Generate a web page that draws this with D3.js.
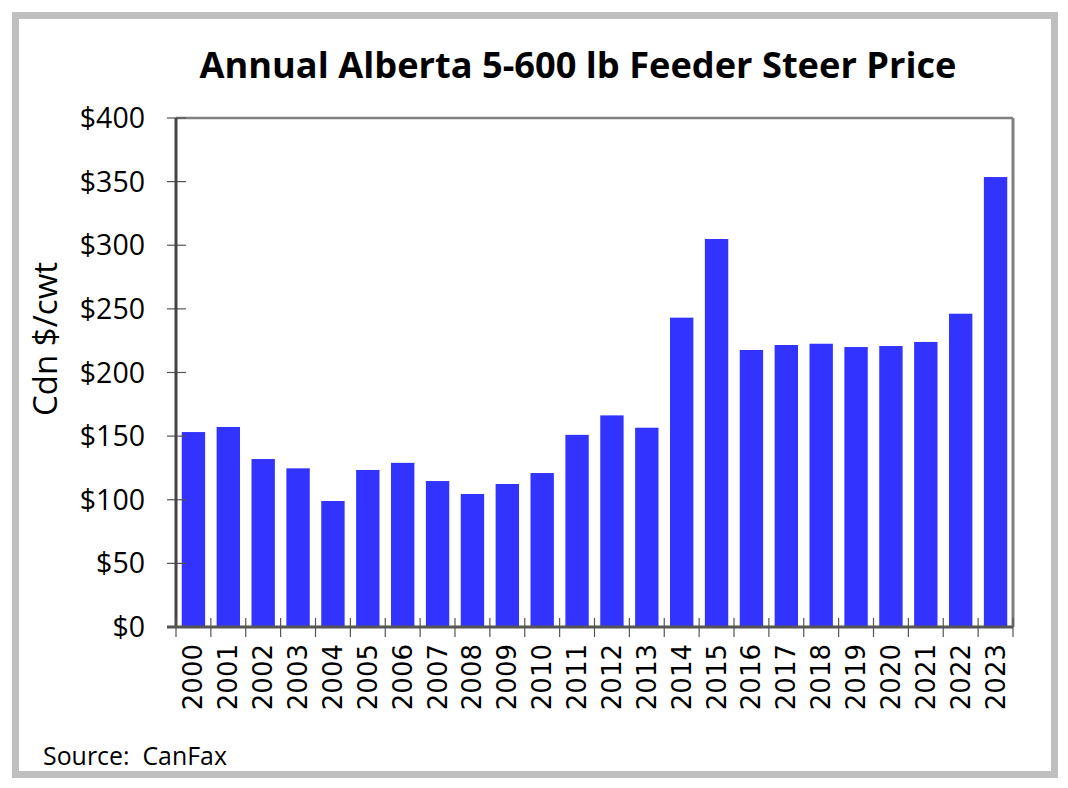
<!DOCTYPE html>
<html>
<head>
<meta charset="utf-8">
<script src="https://cdn.jsdelivr.net/npm/d3@7"></script>
<style>
  body { margin: 0; background: #fff; }
  svg { display: block; }
</style>
</head>
<body>
<div id="chart"></div>
<script>
const years = ["2000","2001","2002","2003","2004","2005","2006","2007","2008","2009","2010","2011",
               "2012","2013","2014","2015","2016","2017","2018","2019","2020","2021","2022","2023"];
const prices = [153.2, 157.2, 132, 124.7, 99, 123.4, 129, 114.7, 104.5, 112.4, 121, 151,
                166.3, 156.6, 243.1, 304.9, 217.7, 221.6, 222.6, 220, 220.8, 224, 246.2, 353.6];
const yTicks = [0, 50, 100, 150, 200, 250, 300, 350, 400];
const titleText = "Annual Alberta 5-600 lb Feeder Steer Price";
const yTitle = "Cdn $/cwt";
const sourceText = "Source:  CanFax";

const width = 1068, height = 788;
const margin = {top: 118, right: 55, bottom: 161, left: 176};
const innerWidth = width - margin.left - margin.right;
const innerHeight = height - margin.top - margin.bottom;

const svg = d3.select("#chart").append("svg")
  .attr("width", width)
  .attr("height", height);

// outer frame
svg.append("rect")
  .attr("x", 15.5).attr("y", 15.5)
  .attr("width", 1039).attr("height", 759)
  .attr("fill", "none")
  .attr("stroke", "#bfbfbf")
  .attr("stroke-width", 7);

// scale a text's font so it spans the given width
function fitText(sel, size, target) {
  sel.attr("font-size", size);
  const w = sel.node().getComputedTextLength();
  sel.attr("font-size", (size * target / w).toFixed(2));
}

const title = svg.append("text")
  .attr("x", 578).attr("y", 78)
  .attr("text-anchor", "middle")
  .attr("font-family", "Open Sans, sans-serif")
  .attr("font-weight", "bold")
  .attr("fill", "#000")
  .text(titleText);
fitText(title, 36, 757);

const g = svg.append("g")
  .attr("transform", `translate(${margin.left},${margin.top})`);

const x = d3.scaleBand()
  .domain(years)
  .range([0, innerWidth])
  .paddingInner(0.33)
  .paddingOuter(0.165);

const y = d3.scaleLinear()
  .domain([0, 400])
  .range([innerHeight, 0]);

// bars
g.selectAll(".bar")
  .data(years)
  .enter()
  .append("rect")
  .attr("class", "bar")
  .attr("x", d => x(d))
  .attr("y", (d, i) => y(prices[i]))
  .attr("width", x.bandwidth())
  .attr("height", (d, i) => innerHeight - y(prices[i]))
  .attr("fill", "#3333ff");

// top and right border
g.append("line")
  .attr("x1", 0).attr("x2", innerWidth)
  .attr("y1", 0).attr("y2", 0)
  .attr("stroke", "#808080").attr("stroke-width", 2.5);
g.append("line")
  .attr("x1", innerWidth).attr("x2", innerWidth)
  .attr("y1", 0).attr("y2", innerHeight)
  .attr("stroke", "#808080").attr("stroke-width", 3);

// y axis labels and ticks
g.selectAll(".ylabel")
  .data(yTicks)
  .enter()
  .append("text")
  .attr("class", "ylabel")
  .attr("x", -31)
  .attr("y", d => y(d) + 10)
  .attr("text-anchor", "end")
  .attr("font-family", "Open Sans, sans-serif")
  .attr("font-size", 28.5)
  .attr("fill", "#000")
  .text(d => "$" + d);
g.selectAll(".ytick")
  .data(yTicks)
  .enter()
  .append("line")
  .attr("class", "ytick")
  .attr("x1", -9).attr("x2", 10)
  .attr("y1", d => y(d)).attr("y2", d => y(d))
  .attr("stroke", "#555").attr("stroke-width", 1.2);
g.append("line")
  .attr("x1", 0).attr("x2", 0)
  .attr("y1", 0).attr("y2", innerHeight)
  .attr("stroke", "#444").attr("stroke-width", 3);

// x axis labels and ticks
g.selectAll(".xlabel")
  .data(years)
  .enter()
  .append("text")
  .attr("class", "xlabel")
  .attr("transform", d => `translate(${x(d) + x.bandwidth() / 2 + 9},${innerHeight + 17}) rotate(-90)`)
  .attr("text-anchor", "end")
  .attr("font-family", "DejaVu Sans, sans-serif")
  .attr("font-size", 26)
  .attr("fill", "#000")
  .text(d => d);
const step = x.step();
const bounds = d3.range(years.length + 1).map(i => i * step);
g.selectAll(".xtick")
  .data(bounds)
  .enter()
  .append("line")
  .attr("class", "xtick")
  .attr("x1", d => d).attr("x2", d => d)
  .attr("y1", innerHeight - 9).attr("y2", innerHeight + 10)
  .attr("stroke", "#555").attr("stroke-width", 1.2);
g.append("line")
  .attr("x1", -9).attr("x2", innerWidth)
  .attr("y1", innerHeight).attr("y2", innerHeight)
  .attr("stroke", "#555").attr("stroke-width", 3);

// y axis title
const yt = svg.append("text")
  .attr("transform", "translate(57,339) rotate(-90)")
  .attr("text-anchor", "middle")
  .attr("font-family", "Open Sans, sans-serif")
  .attr("fill", "#000")
  .text(yTitle);
fitText(yt, 25, 154);

// source
const src = svg.append("text")
  .attr("x", 43).attr("y", 765)
  .attr("font-family", "Open Sans, sans-serif")
  .attr("xml:space", "preserve")
  .style("white-space", "pre")
  .attr("fill", "#000")
  .text(sourceText);
fitText(src, 21, 184);
</script>
</body>
</html>
